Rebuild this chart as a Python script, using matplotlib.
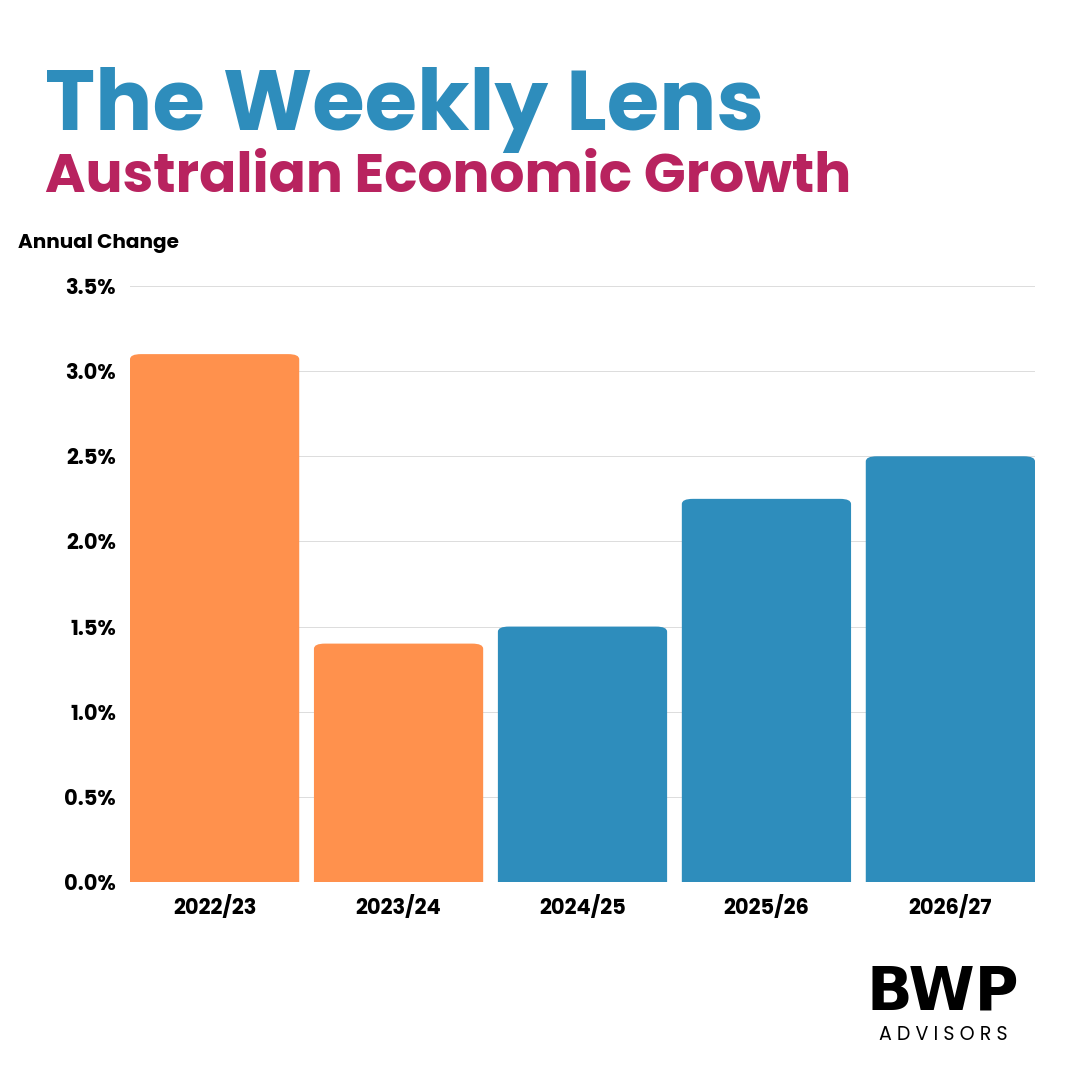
import matplotlib
matplotlib.use("Agg")
import matplotlib.pyplot as plt
from matplotlib.patches import FancyBboxPatch

categories = ["2022/23", "2023/24", "2024/25", "2025/26", "2026/27"]
values = [3.10, 1.40, 1.50, 2.25, 2.50]
colors = ["#FF914D", "#FF914D", "#2E8DBC", "#2E8DBC", "#2E8DBC"]
yticks = [0, 0.5, 1.0, 1.5, 2.0, 2.5, 3.0, 3.5]

plt.rcParams['font.family'] = ['Poppins', 'Lato', 'DejaVu Sans']
fig = plt.figure(figsize=(15, 15), dpi=72)
ax = fig.add_axes([130/1080, 1-882/1080, 905/1080, (882-286)/1080])

bars = ax.bar(range(len(values)), values, width=0.92, color=colors, zorder=2)
for b, c in zip(bars, colors):
    b.set_visible(False)
    x, w, h = b.get_x(), b.get_width(), b.get_height()
    p = FancyBboxPatch((x, -0.2), w, h + 0.2, boxstyle="round,pad=0,rounding_size=0.06",
                       mutation_aspect=0.5, facecolor=c, edgecolor='none', zorder=2)
    ax.add_patch(p)

ax.set_xlim(-0.46, 4.46)
ax.set_ylim(0, 3.5)
ax.set_yticks(yticks)
ax.set_yticklabels([f"{v:.1f}%" for v in yticks], fontsize=21, fontweight='bold')
ax.set_xticks(range(len(categories)))
ax.set_xticklabels(categories, fontsize=21, fontweight='bold')
ax.tick_params(length=0, pad=14)
ax.grid(axis='y', color='#dddddd', linewidth=1, zorder=0)
for s in ax.spines.values():
    s.set_visible(False)

fig.text(45/1080, 1-130/1080, "The Weekly Lens", fontsize=85, fontweight='bold', color="#2E8DBC")
fig.text(45/1080, 1-192/1080, "Australian Economic Growth", fontsize=55, fontweight='bold', color="#B8235F")
fig.text(18/1080, 1-248/1080, "Annual Change", fontsize=20, fontweight='bold', color='black')
fig.text(943/1080, 1-1010/1080, "BWP", fontsize=60, fontweight='bold', color='black', ha='center',
         family=['Liberation Sans Narrow', 'DejaVu Sans Condensed', 'DejaVu Sans'])
fig.text(943/1080, 1-1040/1080, "A D V I S O R S", fontsize=19, color='black', ha='center')

fig.savefig("out.png", dpi=72)
